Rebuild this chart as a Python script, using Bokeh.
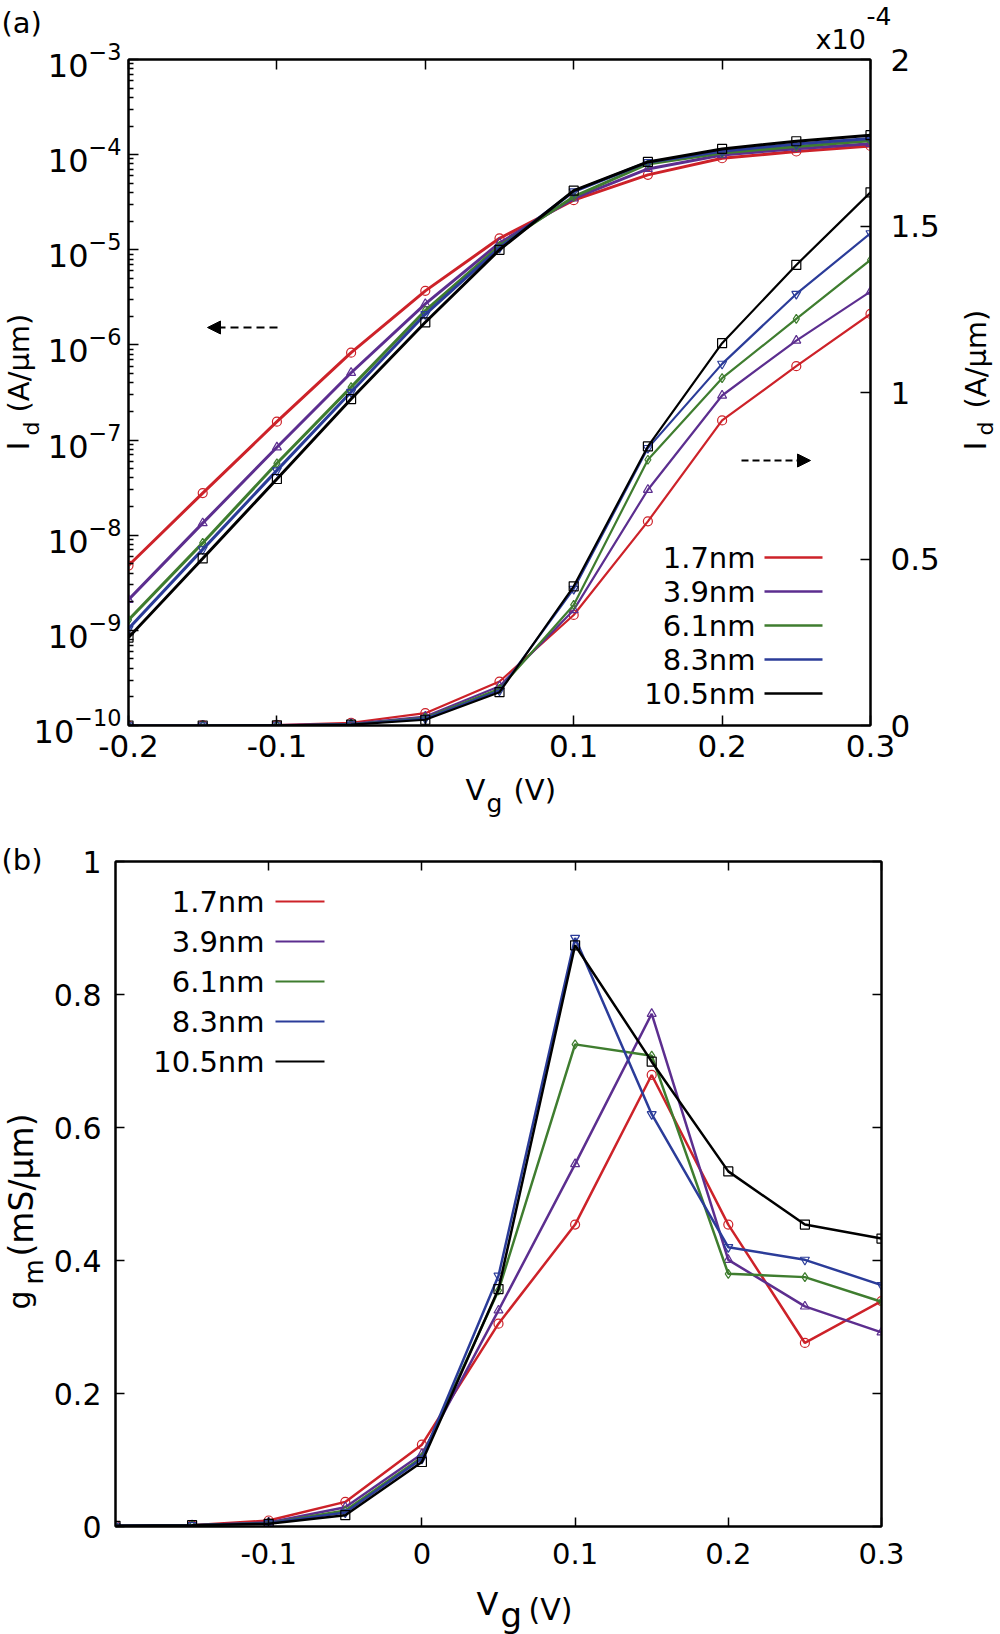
import math

from bokeh.plotting import figure
from bokeh.models import (Range1d, LinearScale, LinearAxis, FixedTicker,
                          CustomJSTickFormatter, LogTickFormatter, Label,
                          Arrow, NormalHead)
from bokeh.embed import file_html
from bokeh.resources import INLINE

FONT = "DejaVu Sans"

# gate voltage sweep (V)
vg = [-0.2, -0.15, -0.1, -0.05, 0.0, 0.05, 0.1, 0.15, 0.2, 0.25, 0.3]

series_names = ["1.7nm", "3.9nm", "6.1nm", "8.3nm", "10.5nm"]
series_colors = ["#cd2229", "#5c2e8f", "#3f7d2f", "#2b3c99", "#000000"]
series_markers = ["circle", "triangle", "diamond", "inverted_triangle", "square"]

# drain current (A/um)
id_1p7 = [4.8e-9, 2.77e-8, 1.56e-7, 8.3e-7, 3.7e-6, 1.32e-5, 3.32e-5, 6.13e-5, 9.16e-5, 1.079e-4, 1.236e-4]
id_3p9 = [2.1e-9, 1.34e-8, 8.4e-8, 5.1e-7, 2.7e-6, 1.18e-5, 3.47e-5, 7.08e-5, 9.91e-5, 1.156e-4, 1.303e-4]
id_6p1 = [1.29e-9, 8.3e-9, 5.7e-8, 3.6e-7, 2.3e-6, 1.10e-5, 3.62e-5, 7.98e-5, 1.043e-4, 1.221e-4, 1.398e-4]
id_8p3 = [1.04e-9, 7.1e-9, 4.8e-8, 3.2e-7, 2.1e-6, 1.05e-5, 4.10e-5, 8.33e-5, 1.086e-4, 1.296e-4, 1.478e-4]
id_10p5 = [8.4e-10, 5.7e-9, 3.9e-8, 2.7e-7, 1.73e-6, 1.00e-5, 4.18e-5, 8.38e-5, 1.148e-4, 1.383e-4, 1.601e-4]

# transconductance (mS/um)
gm_1p7 = [0.001, 0.002, 0.009, 0.037, 0.123, 0.305, 0.454, 0.679, 0.454, 0.276, 0.339]
gm_3p9 = [0.001, 0.002, 0.006, 0.029, 0.109, 0.325, 0.545, 0.771, 0.401, 0.331, 0.292]
gm_6p1 = [0.001, 0.002, 0.005, 0.024, 0.104, 0.355, 0.725, 0.708, 0.380, 0.375, 0.338]
gm_8p3 = [0.001, 0.002, 0.005, 0.021, 0.102, 0.377, 0.885, 0.620, 0.420, 0.401, 0.363]
gm_10p5 = [0.001, 0.002, 0.004, 0.017, 0.097, 0.357, 0.874, 0.699, 0.534, 0.454, 0.433]

# tick positions
vg_ticks_a = [-0.2, -0.1, 0.0, 0.1, 0.2, 0.3]
vg_ticks_b = [-0.1, 0.0, 0.1, 0.2, 0.3]
log_exponents = [-10, -9, -8, -7, -6, -5, -4, -3]
lin_ticks = [0.0, 0.5e-4, 1.0e-4, 1.5e-4, 2.0e-4]
lin_scale_top = 2.0e-4
gm_ticks = [0.0, 0.2, 0.4, 0.6, 0.8, 1.0]

id_series = [id_1p7, id_3p9, id_6p1, id_8p3, id_10p5]
gm_series = [gm_1p7, gm_3p9, gm_6p1, gm_8p3, gm_10p5]

PAGE_W, PAGE_H = 1000, 1634
A_H = 830

fmt_dec = CustomJSTickFormatter(code="return String(Math.round(tick * 10) / 10);")
fmt_blank = CustomJSTickFormatter(code="return '';")
fmt_lin = CustomJSTickFormatter(code="return String(Math.round(tick * 1e5) / 10);")


def style_axis(ax, size=30, standoff=10, tick_in=10, show_labels=True):
    ax.axis_line_color = "black"
    ax.axis_line_width = 2
    ax.major_tick_line_color = "black"
    ax.major_tick_line_width = 1.5
    ax.major_tick_in = tick_in
    ax.major_tick_out = 0
    ax.minor_tick_line_color = "black"
    ax.minor_tick_line_width = 1.5
    ax.minor_tick_in = 5
    ax.minor_tick_out = 0
    ax.major_label_text_font = FONT
    ax.major_label_text_color = "black"
    if show_labels:
        ax.major_label_text_font_size = f"{size}px"
        ax.major_label_standoff = standoff
    else:
        ax.major_label_text_font_size = "0px"
        ax.major_label_standoff = 0


def frame_text(p, xy, text, size, align="left"):
    p.add_layout(Label(x=xy[0], y=xy[1], x_units="screen", y_units="screen",
                       text=text, text_align=align, text_baseline="middle",
                       text_font=FONT, text_font_size=f"{size}px",
                       text_color="black"))


def frame_seg(p, a, b, color, width, dash="solid", head=None):
    p.add_layout(Arrow(x_start=a[0], y_start=a[1], x_end=b[0], y_end=b[1],
                       start_units="screen", end_units="screen",
                       start=None, end=head, line_color=color,
                       line_width=width, line_dash=dash))


def place(p, left, top, z=1):
    p.styles = {"position": "absolute", "left": f"{left}px",
                "top": f"{top}px", "z-index": str(z)}


# ---------------- (a) transfer characteristics ----------------
A_LEFT, A_BOTTOM = 128, 725


def fa(px, py):
    return px - A_LEFT, A_BOTTOM - py


pa = figure(width=PAGE_W, height=A_H,
            x_range=Range1d(vg[0], vg[-1]),
            y_range=Range1d(10.0 ** log_exponents[0], 10.0 ** log_exponents[-1]),
            y_axis_type="log", output_backend="svg", toolbar_location=None,
            title_location=None,
            min_border_left=A_LEFT, min_border_right=130,
            min_border_top=59, min_border_bottom=105,
            background_fill_color="white", border_fill_color="white",
            outline_line_color="black", outline_line_width=2)
pa.grid.visible = False
pa.extra_y_ranges = {"lin": Range1d(0, lin_scale_top)}
pa.extra_y_scales = {"lin": LinearScale()}

ax = pa.xaxis[0]
ax.ticker = FixedTicker(ticks=vg_ticks_a)
ax.formatter = fmt_dec
style_axis(ax, size=31, standoff=9)

ay = pa.yaxis[0]
ay.ticker = FixedTicker(ticks=[10.0 ** e for e in log_exponents],
                        minor_ticks=[m * 10.0 ** e for e in log_exponents[:-1] for m in range(2, 10)])
ay.formatter = LogTickFormatter()
style_axis(ay, size=32, standoff=7)

ar = LinearAxis(y_range_name="lin", ticker=FixedTicker(ticks=lin_ticks), formatter=fmt_lin)
style_axis(ar, size=31, standoff=20)
pa.add_layout(ar, "right")

at = LinearAxis(ticker=FixedTicker(ticks=vg_ticks_a), formatter=fmt_blank)
style_axis(at, show_labels=False)
pa.add_layout(at, "above")

for color, marker, ys in zip(series_colors, series_markers, id_series):
    pa.line(vg, ys, line_color=color, line_width=3)
    pa.scatter(vg, ys, marker=marker, size=9, fill_color=None,
               line_color=color, line_width=1.2)
for color, marker, ys in zip(series_colors, series_markers, id_series):
    pa.line(vg, ys, line_color=color, line_width=2.2, y_range_name="lin")
    pa.scatter(vg, ys, marker=marker, size=9, fill_color=None,
               line_color=color, line_width=1.2, y_range_name="lin")

arrow_head = dict(size=13, fill_color="black", line_color="black")
frame_seg(pa, fa(277, 327), fa(207, 327), "black", 2.2, dash="8 5",
          head=NormalHead(**arrow_head))
frame_seg(pa, fa(741, 460), fa(810, 460), "black", 2.2, dash="7 4",
          head=NormalHead(**arrow_head))

for name, color, py in zip(series_names, series_colors, [557, 591, 625, 659, 693]):
    frame_text(pa, fa(755, py), name, 29, align="right")
    frame_seg(pa, fa(764, py), fa(822, py), color, 2.5)

place(pa, 0, 0)

# ---------------- (b) transconductance ----------------
B_LEFT, B_BOTTOM = 115, 1526
B_H = PAGE_H - A_H


def fb(px, py):
    return px - B_LEFT, B_BOTTOM - py


pb = figure(width=PAGE_W, height=B_H,
            x_range=Range1d(vg[0], vg[-1]),
            y_range=Range1d(gm_ticks[0], gm_ticks[-1]),
            output_backend="svg", toolbar_location=None, title_location=None,
            min_border_left=B_LEFT, min_border_right=119,
            min_border_top=861 - A_H,
            min_border_bottom=PAGE_H - B_BOTTOM,
            background_fill_color="white", border_fill_color="white",
            outline_line_color="black", outline_line_width=2)
pb.grid.visible = False

bx = pb.xaxis[0]
bx.ticker = FixedTicker(ticks=vg_ticks_b)
bx.formatter = fmt_dec
style_axis(bx, size=29, standoff=16, tick_in=9)

by = pb.yaxis[0]
by.ticker = FixedTicker(ticks=gm_ticks)
by.formatter = fmt_dec
style_axis(by, size=30, standoff=14, tick_in=9)

br = LinearAxis(ticker=FixedTicker(ticks=gm_ticks), formatter=fmt_blank)
style_axis(br, tick_in=9, show_labels=False)
pb.add_layout(br, "right")

bt = LinearAxis(ticker=FixedTicker(ticks=vg_ticks_b), formatter=fmt_blank)
style_axis(bt, tick_in=9, show_labels=False)
pb.add_layout(bt, "above")

for color, marker, ys in zip(series_colors, series_markers, gm_series):
    pb.line(vg, ys, line_color=color, line_width=2.5)
    pb.scatter(vg, ys, marker=marker, size=9, fill_color=None,
               line_color=color, line_width=1.2)

for name, color, py in zip(series_names, series_colors, [901, 941, 981, 1021, 1061]):
    frame_text(pb, fb(264, py), name, 29, align="right")
    frame_seg(pb, fb(275, py), fb(324, py), color, 2)

place(pb, 0, A_H)

# ---------------- page-level titles and captions ----------------
# a transparent sheet over both panels; its data space is page pixels
ov = figure(width=PAGE_W, height=PAGE_H,
            x_range=Range1d(0, PAGE_W), y_range=Range1d(PAGE_H, 0),
            x_axis_location=None, y_axis_location=None,
            output_backend="svg", toolbar_location=None, title_location=None,
            min_border=0, background_fill_color=None, border_fill_color=None,
            outline_line_color=None)
ov.grid.visible = False

MID = 0.3  # distance from baseline to the text's middle, in em


def page_text(px, base, text, size, align="left"):
    """Horizontal text whose baseline sits at page row `base`."""
    ov.add_layout(Label(x=px, y=base - MID * size, text=text,
                        text_align=align, text_baseline="middle",
                        text_font=FONT, text_font_size=f"{size}px",
                        text_color="black"))


def page_text_up(base, py, text, size):
    """Text reading upwards whose baseline sits at page column `base`."""
    ov.add_layout(Label(x=base - MID * size, y=py, text=text,
                        angle=math.pi / 2, text_align="left",
                        text_baseline="middle", text_font=FONT,
                        text_font_size=f"{size}px", text_color="black"))


page_text(1, 31, "(a)", 29)
page_text(815, 47, "x10", 27)
page_text(866, 23, "-4", 25)

page_text_up(27, 450, "I", 30)
page_text_up(38, 435, "d", 22)
page_text_up(27, 412, "(A/\u03bcm)", 29)

page_text_up(984, 450, "I", 30)
page_text_up(992, 435, "d", 22)
page_text_up(984, 408, "(A/\u03bcm)", 29)

page_text(465, 798, "V", 29)
page_text(486, 810, "g", 25)
page_text(513, 798, "(V)", 29)

page_text(1, 868, "(b)", 29)

page_text_up(28, 1309, "g", 30)
page_text_up(41, 1284, "m", 26)
page_text_up(31, 1256, "(mS/\u03bcm)", 33)

page_text(476, 1613, "V", 32)
page_text(500, 1625, "g", 34)
page_text(528, 1618, "(V)", 30)

place(ov, 0, 0, z=5)

open("out.html", "w").write(file_html([pa, pb, ov], INLINE))
